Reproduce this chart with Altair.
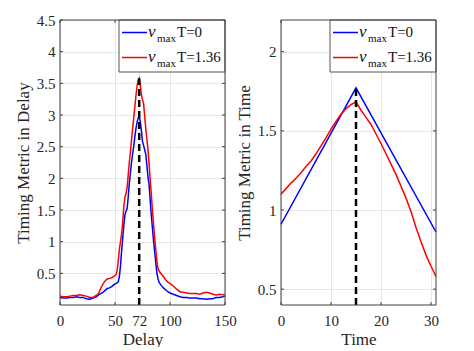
import altair as alt
import pandas as pd

# ---------------- data ----------------
delay = [0, 3, 6, 9, 12, 15, 18, 21, 24, 27, 30, 33, 35, 37, 39, 41, 43, 45, 47, 49,
         51, 52, 53, 54, 55, 56, 57, 58, 59, 60, 61, 62, 63, 64, 65, 66, 67, 68, 69, 70,
         71, 72, 73, 74, 75, 76, 77, 78, 79, 80, 81, 82, 83, 84, 85, 86, 87, 88, 89, 90,
         92, 94, 96, 98, 100, 103, 106, 109, 112, 115, 118, 121, 124, 127, 130, 133, 136,
         139, 142, 145, 148, 150]
delay_blue = [0.12, 0.11, 0.11, 0.12, 0.12, 0.13, 0.12, 0.12, 0.10, 0.09, 0.11, 0.13, 0.16, 0.18, 0.20, 0.23, 0.26, 0.27, 0.29, 0.32,
              0.34, 0.35, 0.37, 0.45, 0.62, 0.85, 1.05, 1.25, 1.42, 1.48, 1.52, 1.70, 1.92, 2.08, 2.25, 2.38, 2.50, 2.65, 2.78, 2.88,
              2.95, 2.97, 2.90, 2.75, 2.58, 2.52, 2.45, 2.38, 2.20, 2.02, 1.90, 1.65, 1.42, 1.22, 1.02, 0.85, 0.68, 0.52, 0.42, 0.36,
              0.31, 0.27, 0.24, 0.21, 0.19, 0.17, 0.15, 0.13, 0.12, 0.12, 0.11, 0.11, 0.11, 0.10, 0.10, 0.09, 0.10,
              0.10, 0.12, 0.12, 0.13, 0.14]
delay_red = [0.14, 0.13, 0.13, 0.14, 0.15, 0.15, 0.16, 0.15, 0.14, 0.12, 0.12, 0.15, 0.18, 0.26, 0.33, 0.38, 0.41, 0.42, 0.43, 0.45,
             0.48, 0.55, 0.70, 0.88, 1.00, 1.12, 1.30, 1.55, 1.70, 1.76, 1.85, 2.05, 2.25, 2.42, 2.60, 2.78, 2.95, 3.12, 3.30, 3.45,
             3.55, 3.58, 3.48, 3.32, 3.24, 3.18, 2.98, 2.78, 2.62, 2.45, 2.22, 1.98, 1.75, 1.50, 1.28, 1.08, 0.88, 0.70, 0.58, 0.54,
             0.49, 0.45, 0.40, 0.36, 0.34, 0.30, 0.25, 0.21, 0.20, 0.19, 0.18, 0.18, 0.18, 0.17, 0.19, 0.20, 0.19,
             0.17, 0.16, 0.17, 0.16, 0.16]

time_blue = [0, 15, 31]
time_blue_vals = [0.91, 1.772, 0.861]
time_red = list(range(0, 32))
time_red_vals = [1.10, 1.135, 1.17, 1.20, 1.235, 1.275, 1.31, 1.355, 1.405, 1.455, 1.51, 1.56, 1.605, 1.64, 1.665, 1.683,
                 1.63, 1.585, 1.54, 1.48, 1.42, 1.355, 1.29, 1.225, 1.15, 1.075, 0.99, 0.89, 0.80, 0.715, 0.645, 0.58]

series_names = ["T=0", "T=1.36"]
series_colors = ["#0000ff", "#ff0000"]

delay_ticks = [0, 50, 72, 100, 150]
delay_yticks = [0.5, 1, 1.5, 2, 2.5, 3, 3.5, 4, 4.5]
time_ticks = [0, 10, 20, 30]
time_yticks = [0.5, 1, 1.5, 2]

delay_marker = [72]
delay_marker_top = [3.58]
time_marker = [15]
time_marker_top = [1.772]

FONT = "Liberation Serif"
FRAME = "#404040"


def build_panel(xs_b, ys_b, xs_r, ys_r, x_title, y_title, x_dom, y_dom, x_ticks, y_ticks,
                mark_x, mark_top, W, H):
    df = pd.concat([
        pd.DataFrame({"x": xs_b, "y": ys_b, "s": series_names[0]}),
        pd.DataFrame({"x": xs_r, "y": ys_r, "s": series_names[1]}),
    ])
    xenc = alt.X("x:Q", scale=alt.Scale(domain=x_dom, nice=False, zero=False),
                 axis=alt.Axis(values=x_ticks, title=x_title, labelFlush=False, labelOverlap=False,
                               labelPadding=8, titlePadding=3, format="~r"))
    yenc = alt.Y("y:Q", scale=alt.Scale(domain=y_dom, nice=False, zero=False),
                 axis=alt.Axis(values=y_ticks, title=y_title, labelFlush=False, labelOverlap=False,
                               labelPadding=5, titlePadding=4, format="~r"))
    lines = alt.Chart(df).mark_line(strokeWidth=1.5).encode(
        x=xenc, y=yenc,
        color=alt.Color("s:N", scale=alt.Scale(domain=series_names, range=series_colors), legend=None),
    )
    mdf = pd.DataFrame({"x": mark_x, "y": [y_dom[0]], "y2": mark_top})
    marker = alt.Chart(mdf).mark_rule(strokeDash=[7, 4], strokeWidth=2.5, color="black").encode(
        x=xenc, y=yenc, y2="y2:Q")

    # inward tick marks on all four sides (MATLAB style)
    xt = pd.DataFrame({"x": x_ticks})
    yt = pd.DataFrame({"y": y_ticks})
    tick_layers = [
        alt.Chart(xt).mark_rule(color=FRAME, strokeWidth=1).encode(x=xenc, y=alt.value(H), y2=alt.value(H - 3)),
        alt.Chart(xt).mark_rule(color=FRAME, strokeWidth=1).encode(x=xenc, y=alt.value(0), y2=alt.value(3)),
        alt.Chart(yt).mark_rule(color=FRAME, strokeWidth=1).encode(y=yenc, x=alt.value(0), x2=alt.value(3)),
        alt.Chart(yt).mark_rule(color=FRAME, strokeWidth=1).encode(y=yenc, x=alt.value(W - 3), x2=alt.value(W)),
    ]

    one = pd.DataFrame({"a": [0]})
    layers = tick_layers + [lines, marker]
    layers.append(alt.Chart(one).mark_rect(fill="white", stroke="#555555", strokeWidth=1).encode(
        x=alt.value(W - 106), x2=alt.value(W), y=alt.value(0), y2=alt.value(52)))
    for i, (name, col) in enumerate(zip(series_names, series_colors)):
        ry = 12.5 + 25 * i
        layers.append(alt.Chart(one).mark_rule(color=col, strokeWidth=1.5).encode(
            x=alt.value(W - 103), x2=alt.value(W - 78), y=alt.value(ry)))
        layers.append(alt.Chart(one).mark_text(text="\u03bd", font=FONT, fontSize=17, fontStyle="italic",
                                                align="left", baseline="alphabetic", color="#111").encode(
            x=alt.value(W - 77), y=alt.value(ry + 4)))
        layers.append(alt.Chart(one).mark_text(text="max", font=FONT, fontSize=11,
                                                align="left", baseline="alphabetic", color="#111").encode(
            x=alt.value(W - 68), y=alt.value(ry + 9.5)))
        layers.append(alt.Chart(one).mark_text(text=name, font=FONT, fontSize=15,
                                                align="left", baseline="alphabetic", color="#111").encode(
            x=alt.value(W - 48), y=alt.value(ry + 4)))
    # plot frame (MATLAB box)
    layers.append(alt.Chart(one).mark_rect(fill=None, fillOpacity=0, stroke=FRAME, strokeWidth=1).encode(
        x=alt.value(0), x2=alt.value(W), y=alt.value(0), y2=alt.value(H)))
    return alt.layer(*layers).properties(width=W, height=H)


left = build_panel(delay, delay_blue, delay, delay_red, "Delay", "Timing Metric in Delay",
                   [0, 150], [0, 4.5], delay_ticks, delay_yticks, delay_marker, delay_marker_top, 165, 285)
right = build_panel(time_blue, time_blue_vals, time_red, time_red_vals, "Time", "Timing Metric in Time",
                    [0, 31], [0.4, 2.2], time_ticks, time_yticks, time_marker, time_marker_top, 155, 285)

chart = alt.hconcat(left, right, spacing=56, bounds="flush").properties(
    padding={"left": 14, "top": 13, "right": 0, "bottom": 0},
    background="white",
).configure_view(strokeWidth=0).configure_axis(
    labelFont=FONT, labelFontSize=15, labelColor="#262626",
    titleFont=FONT, titleFontSize=17, titleFontWeight="normal", titleColor="#262626",
    grid=True, gridColor="#e6e6e6", gridWidth=1,
    domain=False, ticks=False,
)

chart.save("out.html", embed_options={"renderer": "svg", "actions": False})
